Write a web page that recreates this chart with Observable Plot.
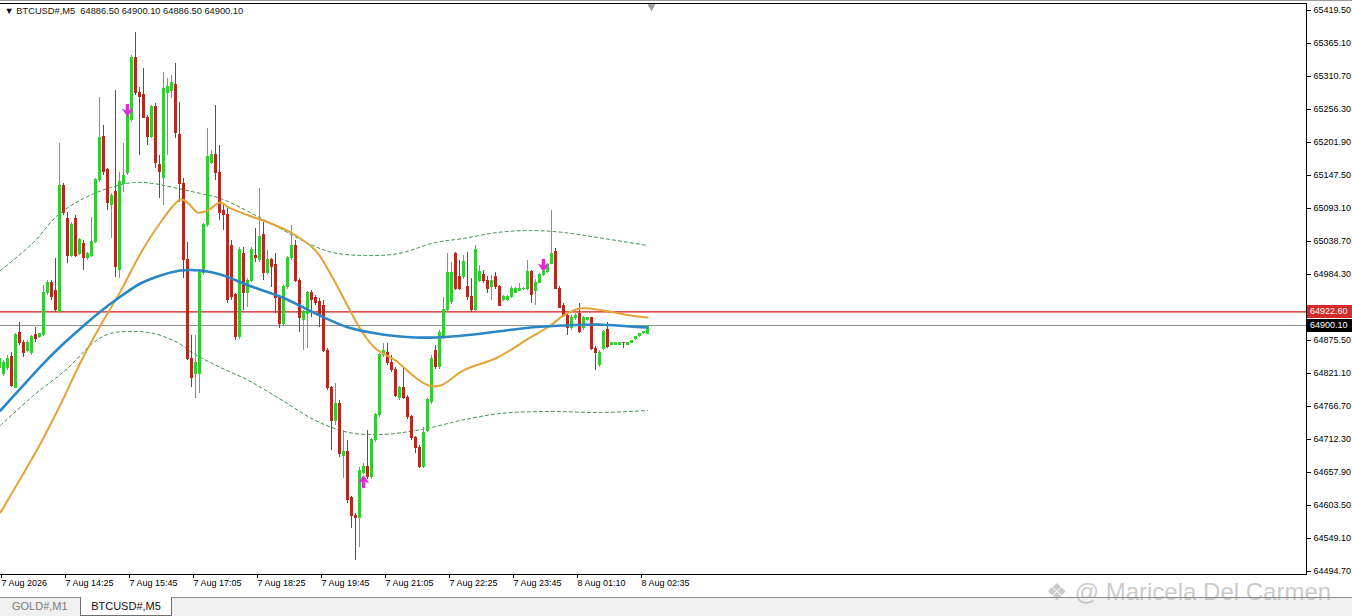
<!DOCTYPE html>
<html>
<head>
<meta charset="utf-8">
<script src="https://cdn.jsdelivr.net/npm/d3@7"></script>
<script src="https://cdn.jsdelivr.net/npm/@observablehq/plot@0.6"></script>
<style>
  body { margin: 0; background: #fff; }
  #wrap { position: relative; width: 1352px; height: 616px; overflow: hidden; background: #fff; font-family: "Liberation Sans", Arial, sans-serif; }
  #tabs { position: absolute; left: 0; top: 597px; width: 1352px; height: 19px; background: #f0f0f0; border-top: 1px solid #8c8c8c; box-sizing: border-box; font-size: 11px; }
  #tabs .t { position: absolute; top: -1px; height: 19px; line-height: 18px; box-sizing: border-box; }
  #tabs .off { left: 12px; color: #7a7a7a; }
  #tabs .on { left: 80px; width: 92px; background: #fff; border: 1px solid #6e6e6e; border-top: none; text-align: center; color: #111; }
  #wm { position: absolute; left: 1046px; top: 578px; font-size: 24px; color: rgba(150,150,150,0.5); white-space: nowrap; font-family: "Liberation Sans", Arial, sans-serif; }
  .lvl { position: absolute; left: 1307px; width: 45px; height: 13px; line-height: 13px; font-size: 9px; color: #fff; padding-left: 3px; box-sizing: border-box; font-family: "Liberation Sans", Arial, sans-serif; z-index: 5; }
</style>
</head>
<body>
<div id="wrap">
  <div id="chart"></div>
  <div id="tabs"><span class="t off">GOLD#,M1</span><span class="t on">BTCUSD#,M5</span></div>
  <div id="wm">❖ @ Maricela Del Carmen</div>
</div>
<script>
// ---------- data (BTCUSD#, M5) ----------
const symbol = "BTCUSD#,M5";
const opens = [64829.4,64821.1,64829.4,64847.5,64798.0,64887.1,64872.2,64859.0,64854.1,64883.8,
64880.5,64883.8,64953.0,64971.1,64957.9,64921.7,65131.0,65076.6,65015.6,65076.6,
65018.9,65035.4,65010.7,65015.6,65037.1,65139.3,65210.2,65155.8,65098.1,65119.5,
64990.9,65134.3,65150.8,65238.2,65340.4,65282.7,65279.4,65243.1,65210.2,65259.6,
65164.0,65142.6,65284.3,65287.6,65295.9,65213.5,65134.3,65007.4,64845.8,64821.1,
64821.1,64986.0,65065.1,65168.9,65180.5,65150.8,65089.8,65081.6,65032.1,64949.7,
64880.5,65018.9,64953.0,64974.4,65015.6,65007.4,65048.6,64986.0,65007.4,64999.2,
64946.4,64903.5,64962.9,65010.7,65032.1,64974.4,64908.5,64920.0,64953.0,64944.8,
64938.2,64933.2,64859.0,64796.4,64743.6,64771.6,64685.9,64690.9,64615.1,64587.0,
64582.1,64657.9,64666.2,64649.7,64710.7,64751.9,64850.8,64855.7,64839.2,64826.1,
64779.9,64798.0,64781.5,64748.6,64714.0,64699.1,64666.2,64727.1,64773.3,64859.0,
64831.0,64880.5,64925.0,64938.2,65018.9,64979.4,64979.4,64962.9,64946.4,64925.0,
64974.4,64982.7,64974.4,64962.9,64979.4,64962.9,64941.5,64941.5,64946.4,64954.6,
64957.9,64959.6,64961.2,64987.6,64957.9,64971.1,64982.7,64987.6,65002.4,65020.6,
64961.2,64933.2,64916.7,64895.3,64911.8,64920.0,64895.3,64908.5,64911.8,64862.3,
64834.3,64862.3,64892.0,64868.9,64868.9,64868.9,64872.2,64868.9,64872.2,64877.2,
64882.1,64887.1,64886.5];
const highs = [64850.8,64842.5,64850.8,64855.7,64887.1,64905.2,64875.5,64875.5,64883.8,64896.9,
64887.1,64966.2,64974.4,64974.4,65010.7,65200.3,65134.3,65086.5,65070.0,65081.6,
65043.7,65040.4,65020.6,65078.3,65142.6,65276.1,65229.9,65159.1,65117.8,65287.6,
65152.5,65200.3,65254.7,65345.3,65383.3,65292.6,65323.9,65246.4,65262.9,65266.2,
65180.5,65317.3,65307.4,65312.4,65332.1,65267.9,65142.6,65037.1,64883.8,64883.8,
64989.3,65068.4,65225.0,65188.7,65262.9,65197.0,65101.4,65093.1,65040.4,64953.0,
65028.8,65028.8,64977.7,65028.8,65060.1,65126.1,65070.0,65023.9,65010.7,65018.9,
64949.7,64966.2,65014.0,65065.1,65040.4,64977.7,64925.0,64956.3,64957.9,64949.7,
64944.8,64941.5,64862.3,64799.7,64804.6,64776.6,64727.1,64710.7,64618.3,64590.3,
64666.2,64672.7,64727.1,64714.0,64755.2,64854.1,64870.6,64870.6,64850.8,64831.0,
64799.7,64829.4,64784.8,64751.9,64717.3,64702.4,64732.1,64779.9,64850.8,64867.3,
64892.0,64946.4,65018.9,65004.1,65020.6,65007.4,65015.6,65020.6,64977.7,65032.1,
64999.2,64990.9,64981.0,64982.7,64987.6,64966.2,64949.7,64949.7,64964.5,64962.9,
64969.5,64962.9,65007.4,64990.9,64976.1,64986.0,64990.9,65002.4,65089.8,65027.2,
64964.5,64936.5,64920.0,64916.7,64920.0,64936.5,64915.1,64913.4,64913.4,64865.6,
64859.0,64892.0,64905.2,64872.2,64872.2,64872.2,64872.2,64872.2,64875.5,64882.1,
64887.1,64890.3,64900.1];
const lows = [64822.8,64816.2,64826.1,64798.0,64796.4,64867.3,64847.5,64855.7,64850.8,64872.2,
64878.8,64882.1,64949.7,64941.5,64921.7,64920.0,65081.6,65002.4,65012.3,65012.3,
65015.6,64990.9,65007.4,65012.3,65035.4,65136.0,65147.5,65089.8,65043.7,64979.4,
64977.7,65119.5,65147.5,65234.9,65279.4,65180.5,65241.5,65197.0,65208.5,65159.1,
65109.6,65098.1,65180.5,65274.5,65208.5,65103.0,64977.7,64842.5,64798.0,64779.9,
64788.1,64982.7,65061.8,65165.6,65139.3,65073.3,65056.8,64936.5,64941.5,64875.5,
64877.2,64925.0,64929.9,64971.1,65004.1,65004.1,64974.4,64982.7,64962.9,64920.0,
64895.3,64900.2,64959.6,65007.4,64971.1,64888.7,64859.0,64862.3,64913.4,64933.2,
64896.9,64855.7,64793.1,64694.2,64735.4,64682.6,64648.0,64606.8,64565.6,64512.8,
64534.3,64654.6,64646.4,64646.4,64707.4,64748.6,64847.5,64834.3,64822.8,64781.5,
64776.6,64778.3,64745.3,64710.7,64689.2,64664.5,64664.5,64723.9,64770.0,64827.7,
64827.7,64877.2,64921.7,64934.9,64957.9,64957.9,64976.1,64941.5,64921.7,64921.7,
64971.1,64969.5,64953.0,64941.5,64959.6,64931.6,64939.8,64939.8,64944.8,64953.0,
64957.9,64957.9,64957.9,64936.5,64933.2,64969.5,64981.0,64986.0,65000.8,64959.6,
64928.3,64913.4,64883.8,64892.0,64908.5,64887.1,64892.0,64906.8,64859.0,64826.1,
64831.0,64859.0,64862.3,64867.3,64867.3,64867.3,64862.3,64867.3,64870.6,64875.5,
64880.5,64885.4,64886.5];
const closes = [64845.8,64837.6,64845.8,64801.3,64883.8,64870.6,64855.7,64872.2,64880.5,64878.8,
64885.4,64953.0,64971.1,64946.4,64925.0,65131.0,65086.5,65015.6,65065.1,65015.6,
65040.4,65010.7,65017.3,65037.1,65139.3,65208.5,65152.5,65101.4,65114.5,64995.9,
65136.0,65147.5,65251.4,65340.4,65282.7,65276.1,65243.1,65210.2,65259.6,65168.9,
65152.5,65290.9,65292.6,65299.2,65216.8,65134.3,65007.4,64845.8,64812.9,64837.6,
64986.0,65065.1,65177.2,65180.5,65150.8,65086.5,65081.6,64941.5,64946.4,64880.5,
65023.9,64953.0,64974.4,65023.9,65010.7,65045.3,64986.0,65007.4,64995.9,64944.8,
64903.5,64962.9,65010.7,65032.1,64974.4,64913.4,64921.7,64953.0,64941.5,64936.5,
64916.7,64859.0,64796.4,64743.6,64771.6,64689.2,64690.9,64611.8,64587.0,64582.1,
64661.2,64666.2,64649.7,64710.7,64751.9,64850.8,64859.0,64837.6,64826.1,64784.8,
64796.4,64781.5,64748.6,64714.0,64697.5,64666.2,64722.2,64776.6,64845.8,64831.0,
64887.1,64925.0,64986.0,64986.0,64961.2,64961.2,65004.1,64946.4,64925.0,65023.9,
64987.6,64974.4,64961.2,64974.4,64962.9,64933.2,64946.4,64946.4,64961.2,64961.2,
64961.2,64961.2,64987.6,64949.7,64971.1,64982.7,64987.6,64999.2,65018.9,64961.2,
64929.9,64916.7,64896.9,64913.4,64916.7,64888.7,64911.8,64911.8,64862.3,64855.7,
64855.7,64888.7,64864.0,64870.6,64870.6,64870.6,64870.6,64870.6,64873.9,64880.5,
64885.4,64888.7,64900.1];

// slow MA (blue)
const blueK = [0.25,5.25,10.25,15.25,20.25,25.25,30.25,35.25,40.25,45.25,50.25,55.25,62.25,70.75,79,87.25,95.75,104,109,116,124.5,132.75,141,149.5,157.75,162];
const blueV = [64760.1,64796.4,64832.6,64865.6,64895.3,64923.3,64948.0,64969.5,64982.7,64990.9,64990.9,64984.3,64966.2,64946.4,64920.0,64896.9,64885.4,64880.5,64880.5,64883.8,64890.3,64896.9,64900.2,64901.9,64898.6,64896.9];
// fast MA (orange)
const orangeK = [0.25,5.25,10.25,15.25,20.25,25.25,30.25,35.25,40.25,45.25,47,49.5,52,55.25,57.25,62.25,67.25,73.25,79,83.25,87.25,90.75,94,99,104,107.25,110.25,116,124.5,132.75,137.75,141,145.25,151,157.75,162];
const orangeV = [64592.0,64648.0,64705.7,64770.0,64839.2,64900.2,64956.3,65018.9,65070.0,65107.9,65103.0,65086.5,65089.8,65103.0,65094.8,65081.6,65070.0,65051.9,65023.9,64979.4,64929.9,64888.7,64862.3,64842.5,64814.5,64801.3,64801.3,64826.1,64847.5,64880.5,64900.2,64916.7,64928.3,64925.0,64916.7,64913.4];
// envelope (dashed green)
const upperK = [0.25,8.5,14.5,21,27.75,33.5,38.5,44.5,50.25,55.25,66.5,77.25,83.25,91.5,99.75,109,116,124.5,132.75,141,149.5,162];
const upperV = [64990.9,65037.1,65081.6,65109.6,65127.7,65136.0,65134.3,65126.1,65117.8,65109.6,65073.3,65035.4,65020.6,65015.6,65018.9,65037.1,65043.7,65053.6,65056.8,65053.6,65045.3,65032.1];
const lowerK = [0.25,8.5,17,23.5,27.75,33.5,38.5,44.5,48.5,55.25,62.25,70.75,79,87.25,95.75,104,109,115.25,125.25,137.75,150.25,162];
const lowerV = [64735.4,64784.8,64829.4,64872.2,64887.1,64890.4,64887.1,64872.2,64854.1,64831.0,64809.6,64776.6,64743.6,64723.9,64720.6,64727.1,64733.7,64743.6,64755.2,64758.5,64756.8,64760.1];

// signal arrows (bar, price at arrow centre, direction)
const arrowK = [32, 91, 136];
const arrowPrice = [65254.7, 64643.1, 64999.1];
const arrowDir = ["down", "up", "down"];

// horizontal levels
const levelPrices = [64922.6, 64900.1];
const levelNames = ["ask", "bid"];

// axes
const priceTicks = [65419.5,65365.1,65310.7,65256.3,65201.9,65147.5,65093.1,65038.7,64984.3,64929.9,64875.5,64821.1,64766.7,64712.3,64657.9,64603.5,64549.1,64494.7];
const hiddenTick = 64929.9; // covered by the ask-price box in the original
const timeTickK = [0,16,32,48,64,80,96,112,128,144,160];
const timeLabels = ["7 Aug 2026","7 Aug 14:25","7 Aug 15:45","7 Aug 17:05","7 Aug 18:25","7 Aug 19:45","7 Aug 21:05","7 Aug 22:25","7 Aug 23:45","8 Aug 01:10","8 Aug 02:35"];
const shiftK = 163;

// ---------- build ----------
const GREEN = "#32CD32", RED = "#B8281E", BLUE = "#2B86C5", ORANGE = "#E2A437", ENV = "#3a8f4a";
const MAG = "#E02AD6";
const bars = opens.map((o, i) => ({k: i, o, h: highs[i], l: lows[i], c: closes[i]}));
const up = bars.filter(d => d.c >= d.o), dn = bars.filter(d => d.c < d.o);
const series = (K, V) => K.map((k, i) => ({k, v: V[i]}));
const arrows = arrowK.map((k, i) => ({k, v: arrowPrice[i], rot: arrowDir[i] === "down" ? 0 : 180}));
const levels = levelPrices.map((v, i) => ({v, name: levelNames[i]}));
const f2 = d3.format(".2f");
const last = bars[bars.length - 1];
const title = "\u25BC " + symbol + "\u00a0\u00a0" + [last.o, last.h, last.l, last.c].map(f2).join(" ");
const tickLabel = new Map(timeTickK.map((k, i) => [k, timeLabels[i]]));

// downward block arrow symbol, centred
const arrowSymbol = {
  draw(ctx, size) {
    const r = Math.sqrt(size / Math.PI);
    const sw = r * 0.26, hw = r * 0.9, neck = -0.05 * r;
    ctx.moveTo(-sw, -r); ctx.lineTo(sw, -r); ctx.lineTo(sw, neck);
    ctx.lineTo(hw, neck - 0.25 * r); ctx.lineTo(0, r); ctx.lineTo(-hw, neck - 0.25 * r);
    ctx.lineTo(-sw, neck); ctx.closePath();
  }
};

const chart = Plot.plot({
  width: 1352, height: 597,
  marginLeft: 0, marginRight: 46, marginTop: 3, marginBottom: 23,
  style: {fontFamily: "'Liberation Sans', Arial, sans-serif", fontSize: "9px", background: "#fff", color: "#000"},
  x: {type: "linear", domain: [0.25, 326.75]},
  y: {domain: [64489.76, 65431.04]},
  marks: [
    Plot.ruleY(levels.filter(d => d.name === "bid"), {y: "v", stroke: "#8f8f8f", strokeWidth: 1, shapeRendering: "crispEdges"}),
    Plot.ruleY(levels.filter(d => d.name === "ask"), {y: "v", stroke: "#D01818", strokeWidth: 1.2}),
    Plot.line(series(upperK, upperV), {x: "k", y: "v", stroke: ENV, strokeWidth: 1, strokeDasharray: "3,3", curve: "catmull-rom"}),
    Plot.line(series(lowerK, lowerV), {x: "k", y: "v", stroke: ENV, strokeWidth: 1, strokeDasharray: "3,3", curve: "catmull-rom"}),
    Plot.ruleX(up, {x: "k", y1: "l", y2: "h", stroke: GREEN, strokeWidth: 1, shapeRendering: "crispEdges"}),
    Plot.ruleX(dn, {x: "k", y1: "l", y2: "h", stroke: RED, strokeWidth: 1, shapeRendering: "crispEdges"}),
    Plot.rect(up, {x1: d => d.k - 0.375, x2: d => d.k + 0.375, y1: "o", y2: "c", fill: GREEN, insetTop: -0.5, insetBottom: -0.5, shapeRendering: "crispEdges"}),
    Plot.rect(dn, {x1: d => d.k - 0.375, x2: d => d.k + 0.375, y1: "o", y2: "c", fill: RED, insetTop: -0.5, insetBottom: -0.5, shapeRendering: "crispEdges"}),
    Plot.line(series(orangeK, orangeV), {x: "k", y: "v", stroke: ORANGE, strokeWidth: 2, curve: "catmull-rom"}),
    Plot.line(series(blueK, blueV), {x: "k", y: "v", stroke: BLUE, strokeWidth: 2.6, curve: "catmull-rom"}),
    Plot.dot(arrows, {x: "k", y: "v", symbol: arrowSymbol, r: 6.5, rotate: "rot", fill: MAG, stroke: "none"}),
    Plot.frame({anchor: "top", stroke: "#000"}),
    Plot.frame({anchor: "bottom", stroke: "#000"}),
    Plot.frame({anchor: "right", stroke: "#000"}),
    Plot.axisY({anchor: "right", ticks: priceTicks, tickFormat: d => d === hiddenTick ? "" : f2(d), tickSize: 4, tickPadding: 3, label: null, fontSize: 9}),
    Plot.axisX({anchor: "bottom", ticks: timeTickK, tickFormat: k => tickLabel.get(k), tickSize: 4, tickPadding: 1, textAnchor: "start", dx: 2, label: null, fontSize: 9}),
    Plot.text([title], {frameAnchor: "top-left", dx: 4, dy: 8, lineAnchor: "middle", textAnchor: "start", fontSize: 9.3, fill: "#111"}),
    Plot.dot([shiftK], {x: d => d, frameAnchor: "top", dy: 3, symbol: "triangle", r: 3, fill: "#9a9a9a", rotate: 180})
  ]
});
document.getElementById("chart").appendChild(chart);

// price-level boxes on the price scale (HTML overlay placed with the plot's y scale)
const ys = chart.scale("y");
const boxColor = {ask: "#D42A2A", bid: "#000"};
const wrap = document.getElementById("wrap");
levels.forEach(d => {
  const yy = ys.apply(d.v);
  const el = document.createElement("div");
  el.className = "lvl";
  el.style.top = (yy - 6.5) + "px";
  el.style.background = boxColor[d.name];
  el.textContent = f2(d.v);
  wrap.appendChild(el);
});
d3.select(chart).append("line").attr("x1", 0).attr("x2", 1352).attr("y1", 0.5).attr("y2", 0.5).attr("stroke", "#9a9a9a");
</script>
</body>
</html>
